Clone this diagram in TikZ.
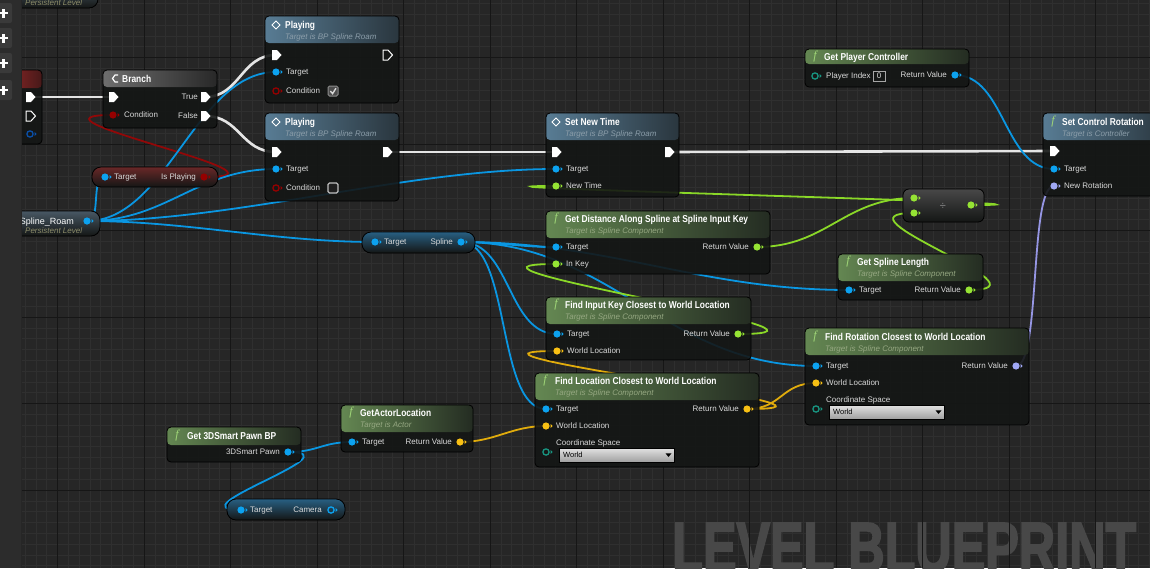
\documentclass[tikz,border=0pt]{standalone}
\usepackage{fontspec}
\setmainfont{Liberation Sans}
\newfontfamily\ttlfont[FakeStretch=0.84]{Liberation Sans Bold}
\newfontfamily\subfont{Liberation Sans Italic}
\newfontfamily\iconfont{Liberation Serif Italic}
\newfontfamily\wmfont[FakeBold=3]{Liberation Sans Bold}
\usetikzlibrary{calc}
\pgfdeclarelayer{bg}\pgfdeclarelayer{wires}
\pgfsetlayers{bg,wires,main}
\definecolor{bgc}{RGB}{38,38,38}
\definecolor{minc}{RGB}{47,47,47}
\definecolor{majc}{RGB}{22,22,22}
\definecolor{wmc}{RGB}{72,72,72}
\definecolor{nodebg}{RGB}{20,22,21}
\definecolor{hgL}{RGB}{100,135,82}
\definecolor{hgR}{RGB}{36,44,34}
\definecolor{hbL}{RGB}{88,124,148}
\definecolor{hbR}{RGB}{42,54,62}
\definecolor{hkL}{RGB}{110,110,110}
\definecolor{hkR}{RGB}{40,40,40}
\definecolor{hrL}{RGB}{150,40,40}
\definecolor{hrR}{RGB}{70,25,25}
\definecolor{pillred}{RGB}{105,40,40}
\definecolor{pillblue}{RGB}{40,95,130}
\definecolor{pillgrey}{RGB}{72,88,100}
\definecolor{pilldiv}{RGB}{72,72,72}
\definecolor{pblue}{RGB}{12,162,240}
\definecolor{pdblue}{RGB}{10,80,170}
\definecolor{pgreen}{RGB}{150,228,52}
\definecolor{pyellow}{RGB}{248,192,20}
\definecolor{pred}{RGB}{150,0,0}
\definecolor{plav}{RGB}{160,168,245}
\definecolor{pteal}{RGB}{24,150,130}
\definecolor{wblue}{RGB}{10,150,225}
\definecolor{wgreen}{RGB}{138,216,40}
\definecolor{wyellow}{RGB}{225,172,12}
\definecolor{wred}{RGB}{145,8,8}
\definecolor{wlav}{RGB}{150,150,228}
\definecolor{subg}{RGB}{150,168,130}
\definecolor{subb}{RGB}{140,158,170}
\definecolor{subk}{RGB}{140,140,105}
\definecolor{lblc}{RGB}{218,218,218}
\definecolor{ficon}{RGB}{160,215,120}
\definecolor{tbc}{RGB}{44,44,44}
\definecolor{tbbtn}{RGB}{58,58,58}
\newcounter{labc}
\newcommand\plbl[3]{\stepcounter{labc}\node[plabel,anchor=west] (lab\number\value{labc}) at (#1,#2) {#3};}
\newcommand\prlbl[3]{\stepcounter{labc}\node[plabel,anchor=east] (lab\number\value{labc}) at (#1,#2) {#3};}
\newcommand\bpdpin[4]{\coordinate (#1) at (#2,#3);
  \fill[#4] (#1) circle (3.6pt);
  \fill[#4] ([xshift=4.6pt,yshift=2pt]#1) -- ++(2pt,-2pt) -- ++(-2pt,-2pt) -- cycle;}
\newcommand\bphpin[4]{\coordinate (#1) at (#2,#3);
  \draw[#4,line width=1.3pt] (#1) circle (3.1pt);
  \fill[#4] ([xshift=4.6pt,yshift=2pt]#1) -- ++(2pt,-2pt) -- ++(-2pt,-2pt) -- cycle;}
\newcommand\bpepin[4]{\coordinate (#1) at (#2,#3);
  \path[#4] ([xshift=-4pt,yshift=5pt]#1) -- ++(5pt,0pt) -- ++(4.5pt,-5pt) -- ++(-4.5pt,-5pt) -- ++(-5pt,0pt) -- cycle;}
\newcommand\bpwire[4]{\draw[wire,#1] (#2) .. controls +(#4,0) and +(-#4,0) .. (#3);}
\newcommand\bpdiam[2]{\draw[white,line width=1pt] (#1,#2-4) -- (#1+4,#2) -- (#1,#2+4) -- (#1-4,#2) -- cycle;}
\tikzset{
  body/.style={draw=black,line width=0.8pt,fill=nodebg,fill opacity=0.9,rounded corners=4pt,inner sep=0pt,outer sep=0pt},
  hdr/.style n args={3}{path picture={\shade[fill opacity=1,left color=#2,right color=#3] (path picture bounding box.north west) rectangle ([yshift=-#1pt]path picture bounding box.north east);}},
  pill/.style={draw=black,line width=0.8pt,fill=nodebg,rounded corners=9pt,inner sep=0pt,outer sep=0pt,
    path picture={\shade[top color=#1,bottom color=nodebg] (path picture bounding box.north west) rectangle (path picture bounding box.south east);}},
  ttl/.style={font=\ttlfont\fontsize{10}{12}\selectfont,text=white,inner sep=0pt,text height=7.2pt,text depth=0pt},
  sub/.style={font=\subfont\fontsize{8}{10}\selectfont,inner sep=0pt,text height=5.7pt,text depth=0pt},
  plabel/.style={font=\fontsize{8}{10}\selectfont,text=lblc,inner sep=0pt,text height=5.7pt,text depth=0pt},
  ficn/.style={font=\iconfont\fontsize{12}{12}\selectfont,text=ficon,inner sep=0pt},
  wire/.style={line width=1.8pt},
  execw/.style={line width=2.6pt,draw=white!90!black},
  ddown/.style={draw=black,line width=0.6pt,top color=white!88!black,bottom color=white!62!black,inner sep=0pt,minimum height=14,anchor=north west},
  minorl/.style={draw=minc,line width=0.6pt},
  majorl/.style={draw=majc,line width=1pt}
}
\begin{document}
\begin{tikzpicture}[x=1pt,y=-1pt]
\useasboundingbox (0,0) rectangle (1150,568);
\begin{pgfonlayer}{bg}
\fill[bgc] (0,0) rectangle (1150,568);
\foreach \i in {-6,...,102} \draw[minorl] ({57.5+\i*10.8125},0) -- ({57.5+\i*10.8125},568);
\foreach \i in {-6,...,48} \draw[minorl] (0,{57.5+\i*10.8125}) -- (1150,{57.5+\i*10.8125});
\node[anchor=north west,inner sep=0pt,text=wmc] (wm) at (672,523) {\resizebox{464pt}{48pt}{\wmfont LEVEL BLUEPRINT}};
\foreach \i in {-1,...,12} \draw[majorl] ({57.5+\i*86.5},0) -- ({57.5+\i*86.5},568);
\foreach \i in {-1,...,6} \draw[majorl] (0,{57.5+\i*86.5}) -- (1150,{57.5+\i*86.5});
\end{pgfonlayer}

% ---------- nodes ----------
% top-left partial node
\node[pill=pillgrey,minimum width=90,minimum height=24,anchor=north west] (tl) at (8,-16) {};
\node[sub,text=subk,anchor=west] (tl-s) at (25,3) {Persistent Level};

% left partial node
\node[body,hdr={18}{hrL}{hrR},minimum width=40,minimum height=74,anchor=north west] (lft) at (2,70) {};
\bpepin{lft-out}{30}{97}{fill=white}
\bpepin{lft-e2}{30}{116}{draw=white,line width=1pt}
\bphpin{lft-o}{30}{134}{pdblue}

% Branch
\node[body,hdr={17}{hkL}{hkR},minimum width=114,minimum height=58,anchor=north west] (br) at (103,70) {};
\draw[white,line width=1.2pt] (118,75) -- (115,75) -- (112.5,78.5) -- (115,82) -- (118,82);
\node[ttl,anchor=west] (br-t) at (122,78.5) {Branch};
\bpepin{br-in}{113}{97}{fill=white}
\bpdpin{br-cond}{113}{115}{pred}
\plbl{124}{115}{Condition}
\prlbl{198}{97}{True}
\bpepin{br-true}{205}{97}{fill=white}
\prlbl{198}{116}{False}
\bpepin{br-false}{205}{116}{fill=white}

% Playing 1
\node[body,hdr={27}{hbL}{hbR},minimum width=134,minimum height=87,anchor=north west] (pl1) at (265,16) {};
\bpdiam{276}{25}
\node[ttl,anchor=west] (pl1-t) at (285,25) {Playing};
\node[sub,text=subb,anchor=west] (pl1-s) at (285,36.5) {Target is BP Spline Roam};
\bpepin{pl1-in}{276}{55}{fill=white}
\bpepin{pl1-out}{387}{55}{draw=white,line width=1pt}
\bpdpin{pl1-tgt}{276}{72}{pblue}
\plbl{286}{72}{Target}
\bphpin{pl1-cond}{276}{91}{pred}
\plbl{286}{91}{Condition}
\draw[white!55!black,fill=white!30!black,line width=1pt,rounded corners=1.5pt] (328,86) rectangle (338,96);
\draw[white!85!black,line width=1.4pt] (330.3,91) -- (332.6,93.6) -- (336,88.2);

% Playing 2
\node[body,hdr={27}{hbL}{hbR},minimum width=134,minimum height=88,anchor=north west] (pl2) at (265,113) {};
\bpdiam{276}{122}
\node[ttl,anchor=west] (pl2-t) at (285,122) {Playing};
\node[sub,text=subb,anchor=west] (pl2-s) at (285,133.5) {Target is BP Spline Roam};
\bpepin{pl2-in}{276}{152}{fill=white}
\bpepin{pl2-out}{387}{152}{fill=white}
\bpdpin{pl2-tgt}{276}{169}{pblue}
\plbl{286}{169}{Target}
\bphpin{pl2-cond}{276}{188}{pred}
\plbl{286}{188}{Condition}
\draw[white!75!black,fill=white!12!black,line width=1.2pt,rounded corners=1.5pt] (328,183) rectangle (338,193);

% Is Playing
\node[pill=pillred,minimum width=126,minimum height=20,anchor=north west] (isp) at (92,167) {};
\bpdpin{isp-tgt}{105}{177}{pblue}
\plbl{114}{177}{Target}
\prlbl{196}{177}{Is Playing}
\bpdpin{isp-out}{204}{177}{pred}

% Spline_Roam
\node[pill=pillgrey,minimum width=90,minimum height=25,anchor=north west] (sr) at (10,211) {};
\node[font=\fontsize{9}{11}\selectfont,text=white,anchor=east,inner sep=0pt,text height=6.5pt,text depth=0pt] (sr-t) at (74,221) {Spline\_Roam};
\node[sub,text=subk,anchor=west] (sr-s) at (25,231) {Persistent Level};
\bpdpin{sr-out}{87}{221}{pblue}

% Target / Spline
\node[pill=pillblue,minimum width=113,minimum height=21,anchor=north west] (sp) at (362,232) {};
\bpdpin{sp-tgt}{375}{242}{pblue}
\plbl{384}{242}{Target}
\prlbl{453}{242}{Spline}
\bpdpin{sp-out}{461}{242}{pblue}

% Set New Time
\node[body,hdr={27}{hbL}{hbR},minimum width=133,minimum height=84,anchor=north west] (snt) at (546,113) {};
\bpdiam{556}{122}
\node[ttl,anchor=west] (snt-t) at (565,122) {Set New Time};
\node[sub,text=subb,anchor=west] (snt-s) at (565,133.5) {Target is BP Spline Roam};
\bpepin{snt-in}{556}{152}{fill=white}
\bpepin{snt-out}{669}{152}{fill=white}
\bpdpin{snt-tgt}{556}{169}{pblue}
\plbl{566}{169}{Target}
\bpdpin{snt-nt}{556}{186}{pgreen}
\plbl{566}{186}{New Time}

% Get Distance Along Spline
\node[body,hdr={27}{hgL}{hgR},minimum width=224,minimum height=63,anchor=north west] (gd) at (546,211) {};
\node[ficn] (gd-f) at (556,219) {f};
\node[ttl,anchor=west] (gd-t) at (565,219) {Get Distance Along Spline at Spline Input Key};
\node[sub,text=subg,anchor=west] (gd-s) at (565,230.5) {Target is Spline Component};
\bpdpin{gd-tgt}{556}{247}{pblue}
\plbl{566}{247}{Target}
\bpdpin{gd-key}{556}{264}{pgreen}
\plbl{566}{264}{In Key}
\prlbl{749}{247}{Return Value}
\bpdpin{gd-ret}{757}{247}{pgreen}

% Get Player Controller
\node[body,hdr={15}{hgL}{hgR},minimum width=164,minimum height=38,anchor=north west] (gpc) at (805,49) {};
\node[ficn] (gpc-f) at (815,56.5) {f};
\node[ttl,anchor=west] (gpc-t) at (824,56.5) {Get Player Controller};
\bphpin{gpc-idx}{815}{76}{pteal}
\plbl{826}{76}{Player Index}
\node[draw=white!65!black,line width=0.8pt,minimum width=12,minimum height=10,inner sep=0pt,font=\fontsize{8}{10}\selectfont,text=lblc] (gpc-0) at (879,76) {0};
\prlbl{947}{75}{Return Value}
\bpdpin{gpc-ret}{955}{75}{pblue}

% Set Control Rotation
\node[body,hdr={27}{hbL}{hbR},minimum width=125,minimum height=83,anchor=north west] (scr) at (1043,113) {};
\node[ficn] (scr-f) at (1053,122) {f};
\node[ttl,anchor=west] (scr-t) at (1062,122) {Set Control Rotation};
\node[sub,text=subb,anchor=west] (scr-s) at (1062,133.5) {Target is Controller};
\bpepin{scr-in}{1054}{151}{fill=white}
\bpdpin{scr-tgt}{1054}{169}{pblue}
\plbl{1064}{169}{Target}
\bpdpin{scr-rot}{1054}{186}{plav}
\plbl{1064}{186}{New Rotation}

% Divide
\node[pill=pilldiv,rounded corners=6pt,minimum width=81,minimum height=33,anchor=north west] (div) at (903,189) {};
\node[font=\fontsize{11}{11}\selectfont,text=white!55!black,inner sep=0pt] (div-sym) at (943,206) {÷};
\bpdpin{div-a}{914}{198}{pgreen}
\bpdpin{div-b}{914}{213}{pgreen}
\bpdpin{div-out}{971}{205}{pgreen}

% Get Spline Length
\node[body,hdr={27}{hgL}{hgR},minimum width=145,minimum height=46,anchor=north west] (gsl) at (838,254) {};
\node[ficn] (gsl-f) at (848,262) {f};
\node[ttl,anchor=west] (gsl-t) at (857,262) {Get Spline Length};
\node[sub,text=subg,anchor=west] (gsl-s) at (857,273.5) {Target is Spline Component};
\bpdpin{gsl-tgt}{849}{290}{pblue}
\plbl{859}{290}{Target}
\prlbl{961}{290}{Return Value}
\bpdpin{gsl-ret}{969}{290}{pgreen}

% Find Input Key
\node[body,hdr={27}{hgL}{hgR},minimum width=205,minimum height=63,anchor=north west] (fik) at (546,297) {};
\node[ficn] (fik-f) at (556,305) {f};
\node[ttl,anchor=west] (fik-t) at (565,305) {Find Input Key Closest to World Location};
\node[sub,text=subg,anchor=west] (fik-s) at (565,316.5) {Target is Spline Component};
\bpdpin{fik-tgt}{557}{334}{pblue}
\plbl{567}{334}{Target}
\bpdpin{fik-wl}{557}{351}{pyellow}
\plbl{567}{351}{World Location}
\prlbl{730}{334}{Return Value}
\bpdpin{fik-ret}{738}{334}{pgreen}

% Find Rotation
\node[body,hdr={27}{hgL}{hgR},minimum width=224,minimum height=97,anchor=north west] (frot) at (805,328) {};
\node[ficn] (frot-f) at (815,337) {f};
\node[ttl,anchor=west] (frot-t) at (825,337) {Find Rotation Closest to World Location};
\node[sub,text=subg,anchor=west] (frot-s) at (825,349) {Target is Spline Component};
\bpdpin{frot-tgt}{816}{366}{pblue}
\plbl{826}{366}{Target}
\bpdpin{frot-wl}{816}{383}{pyellow}
\plbl{826}{383}{World Location}
\plbl{826}{400}{Coordinate Space}
\bphpin{frot-cs}{816}{409}{pteal}
\node[ddown,minimum width=115] (frot-dd) at (829,405) {};
\node[font=\fontsize{7.5}{9}\selectfont,text=black,anchor=west,inner sep=0pt,text height=5.4pt,text depth=0pt] (frot-w) at (833,412) {World};
\fill[black] (935.5,410.3) -- (941.5,410.3) -- (938.5,414) -- cycle;
\prlbl{1008}{366}{Return Value}
\bpdpin{frot-ret}{1016}{366}{plav}

% Find Location
\node[body,hdr={27}{hgL}{hgR},minimum width=224,minimum height=94,anchor=north west] (floc) at (535,373) {};
\node[ficn] (floc-f) at (545,381) {f};
\node[ttl,anchor=west] (floc-t) at (555,381) {Find Location Closest to World Location};
\node[sub,text=subg,anchor=west] (floc-s) at (555,392.5) {Target is Spline Component};
\bpdpin{floc-tgt}{546}{409}{pblue}
\plbl{556}{409}{Target}
\bpdpin{floc-wl}{546}{426}{pyellow}
\plbl{556}{426}{World Location}
\plbl{556}{443}{Coordinate Space}
\bphpin{floc-cs}{546}{452}{pteal}
\node[ddown,minimum width=115] (floc-dd) at (559,448) {};
\node[font=\fontsize{7.5}{9}\selectfont,text=black,anchor=west,inner sep=0pt,text height=5.4pt,text depth=0pt] (floc-w) at (563,455) {World};
\fill[black] (665.5,453.3) -- (671.5,453.3) -- (668.5,457) -- cycle;
\prlbl{739}{409}{Return Value}
\bpdpin{floc-ret}{747}{409}{pyellow}

% GetActorLocation
\node[body,hdr={27}{hgL}{hgR},minimum width=132,minimum height=47,anchor=north west] (gal) at (341,405) {};
\node[ficn] (gal-f) at (351,413) {f};
\node[ttl,anchor=west] (gal-t) at (360,413) {GetActorLocation};
\node[sub,text=subg,anchor=west] (gal-s) at (360,425) {Target is Actor};
\bpdpin{gal-tgt}{352}{442}{pblue}
\plbl{362}{442}{Target}
\prlbl{452}{442}{Return Value}
\bpdpin{gal-ret}{460}{442}{pyellow}

% Get 3DSmart Pawn BP
\node[body,hdr={18}{hgL}{hgR},minimum width=134,minimum height=35,anchor=north west] (g3d) at (167,427) {};
\node[ficn] (g3d-f) at (177,435.5) {f};
\node[ttl,anchor=west] (g3d-t) at (187,435.5) {Get 3DSmart Pawn BP};
\prlbl{280}{452}{3DSmart Pawn}
\bpdpin{g3d-ret}{288}{452}{pblue}

% Target / Camera
\node[pill=pillblue,minimum width=118,minimum height=21,anchor=north west] (cam) at (227,499) {};
\bpdpin{cam-tgt}{241}{510}{pblue}
\plbl{250}{510}{Target}
\prlbl{322}{510}{Camera}
\bphpin{cam-out}{331}{510}{pblue}

% ---------- wires ----------
\begin{pgfonlayer}{wires}
\draw[execw] (lft-out) -- (br-in);
\draw[execw] (br-true) .. controls +(35,0) and +(-35,0) .. (pl1-in);
\draw[execw] (br-false) .. controls +(35,0) and +(-35,0) .. (pl2-in);
\draw[execw] (pl2-out) -- (snt-in);
\draw[execw] (snt-out) -- (scr-in);
\bpwire{wred}{isp-out}{br-cond}{110}
\bpwire{wblue}{sr-out}{isp-tgt}{15}
\bpwire{wblue}{sr-out}{pl1-tgt}{80}
\bpwire{wblue}{sr-out}{pl2-tgt}{80}
\bpwire{wblue}{sr-out}{snt-tgt}{150}
\bpwire{wblue}{sr-out}{sp-tgt}{100}
\bpwire{wblue}{sp-out}{gd-tgt}{40}
\bpwire{wblue}{sp-out}{fik-tgt}{50}
\bpwire{wblue}{sp-out}{floc-tgt}{50}
\bpwire{wblue}{sp-out}{frot-tgt}{150}
\bpwire{wblue}{sp-out}{gsl-tgt}{150}
\bpwire{wblue}{gpc-ret}{scr-tgt}{50}
\bpwire{wlav}{frot-ret}{scr-rot}{25}
\bpwire{wblue}{g3d-ret}{gal-tgt}{30}
\bpwire{wblue}{g3d-ret}{cam-tgt}{70}
\bpwire{wyellow}{gal-ret}{floc-wl}{35}
\bpwire{wyellow}{floc-ret}{fik-wl}{150}
\bpwire{wyellow}{floc-ret}{frot-wl}{35}
\bpwire{wgreen}{gd-ret}{div-a}{70}
\bpwire{wgreen}{gsl-ret}{div-b}{90}
\bpwire{wgreen}{div-out}{snt-nt}{170}
\bpwire{wgreen}{fik-ret}{gd-key}{150}
\end{pgfonlayer}

% ---------- toolbar ----------
\fill[tbc] (0,0) rectangle (21,568);
\draw[black!85,line width=1pt] (21.5,0) -- (21.5,568);
\foreach \yy in {3,28,53,80}{
  \fill[tbbtn,rounded corners=2pt] (-4,\yy) rectangle (12,\yy+20);
  \fill[white] (-1,\yy+8.6) rectangle (8,\yy+11.4);
  \fill[white] (2.1,\yy+5.5) rectangle (4.9,\yy+14.5);
}
\end{tikzpicture}
\end{document}
